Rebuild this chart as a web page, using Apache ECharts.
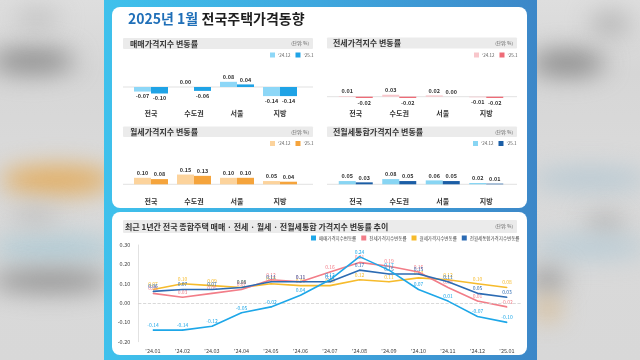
<!DOCTYPE html>
<html><head><meta charset="utf-8">
<script src="https://cdn.jsdelivr.net/npm/echarts@6/dist/echarts.min.js"></script>
<style>
html,body{margin:0;padding:0;background:#d9d9d9;overflow:hidden}
#bg{position:absolute;left:0;top:0;width:640px;height:360px;overflow:hidden;background:linear-gradient(#dedede,#d6d6d6 20%,#dadada 45%,#d8d8d8 100%)}
.b{position:absolute;border-radius:50%;filter:blur(12px)}
#c{position:absolute;left:0;top:0;width:640px;height:360px}
</style>
</head><body>
<div id="bg">
<div class="b" style="left:-10px;top:48px;width:85px;height:26px;background:#8e8e8e"></div>
<div class="b" style="left:15px;top:10px;width:45px;height:18px;background:#bdbdbd"></div>
<div class="b" style="left:0px;top:166px;width:115px;height:28px;background:#e2ac5e"></div>
<div class="b" style="left:-10px;top:236px;width:130px;height:24px;background:#aecbd6"></div>
<div class="b" style="left:-10px;top:270px;width:120px;height:22px;background:#8f8f8f"></div>
<div class="b" style="left:10px;top:208px;width:50px;height:16px;background:#bcbcbc"></div>
<div class="b" style="left:530px;top:50px;width:75px;height:26px;background:#8a8a8a"></div>
<div class="b" style="left:590px;top:13px;width:40px;height:22px;background:#b0b0b0"></div>
<div class="b" style="left:530px;top:168px;width:120px;height:22px;background:#b6c8d2"></div>
<div class="b" style="left:585px;top:213px;width:40px;height:22px;background:#b5b5b5"></div>
<div class="b" style="left:530px;top:236px;width:120px;height:22px;background:#b8ccd6"></div>
<div class="b" style="left:530px;top:268px;width:35px;height:24px;background:#9a9a9a"></div>
<div class="b" style="left:535px;top:298px;width:25px;height:22px;background:#d8b888"></div>
</div>
<div id="c"></div>
<script>
// ---------- data ----------
const regions = ['전국', '수도권', '서울', '지방'];
const periods = ["'24.12", "'25.1"];
const saleDec = [-0.07, 0.00, 0.08, -0.14];
const saleJan = [-0.10, -0.06, 0.04, -0.14];
const jeonseDec = [0.01, 0.03, 0.02, -0.01];
const jeonseJan = [-0.02, -0.02, 0.00, -0.02];
const rentDec = [0.10, 0.15, 0.10, 0.05];
const rentJan = [0.08, 0.13, 0.10, 0.04];
const totalDec = [0.05, 0.08, 0.06, 0.02];
const totalJan = [0.03, 0.05, 0.05, 0.01];

const months = ["'24.01", "'24.02", "'24.03", "'24.04", "'24.05", "'24.06", "'24.07", "'24.08", "'24.09", "'24.10", "'24.11", "'24.12", "'25.01"];
const trendSale   = [-0.14, -0.14, -0.12, -0.05, -0.02, 0.04, 0.12, 0.24, 0.17, 0.07, 0.01, -0.07, -0.10];
const trendJeonse = [0.05, 0.03, 0.05, 0.07, 0.12, 0.11, 0.16, 0.21, 0.19, 0.16, 0.08, 0.01, -0.02];
const trendRent   = [0.07, 0.10, 0.09, 0.08, 0.10, 0.09, 0.09, 0.12, 0.11, 0.13, 0.12, 0.10, 0.08];
const trendTotal  = [0.06, 0.07, 0.07, 0.08, 0.11, 0.11, 0.11, 0.17, 0.15, 0.15, 0.11, 0.05, 0.03];
const trendNames = ['매매가격지수변동률', '전세가격지수변동률', '월세가격지수변동률', '전월세통합가격지수변동률'];

const panelTitles = ['매매가격지수 변동률', '전세가격지수 변동률', '월세가격지수 변동률', '전월세통합가격지수 변동률'];
const trendTitle = '최근 1년간 전국 종합주택 매매 · 전세 · 월세 · 전월세통합 가격지수 변동률 추이';
const unitText = '(단위: %)';

// ---------- layout ----------
const FONT = "'Noto Sans CJK KR', 'Noto Sans', sans-serif";
const S = 65; // px per 1%p in bar panels
const panels = [
  {key: '매매', dec: saleDec, jan: saleJan, c1: '#8dd7f7', c2: '#1fa3e6', hx: 123, hy: 38, left: 129.5, width: 172, zero: 87, labelY: 113, lgx: 270, lgy: 52.5},
  {key: '전세', dec: jeonseDec, jan: jeonseJan, c1: '#f8c6cb', c2: '#ee6b77', hx: 327, hy: 37.5, left: 334, width: 174, zero: 96.7, labelY: 113, lgx: 474, lgy: 52.5},
  {key: '월세', dec: rentDec, jan: rentJan, c1: '#fcd39c', c2: '#f5a43c', hx: 123, hy: 126.5, left: 129.5, width: 172, zero: 184.3, labelY: 201, lgx: 270, lgy: 141},
  {key: '통합', dec: totalDec, jan: totalJan, c1: '#88d5f3', c2: '#1b5ea6', hx: 327, hy: 126.5, left: 334, width: 174, zero: 184.3, labelY: 201, lgx: 473, lgy: 141}
];

const grids = [], xAxes = [], yAxes = [], series = [], legends = [];
panels.forEach((p, i) => {
  const yMax = 0.3;
  const top = p.zero - yMax * S;
  const bottomPx = p.labelY - 3.5 - 2;
  const yMin = -(bottomPx - p.zero) / S;
  grids.push({left: p.left, width: p.width, top: top, height: bottomPx - top});
  xAxes.push({type: 'category', gridIndex: i, data: regions, axisLine: {show: false, onZero: false}, axisTick: {show: false},
    axisLabel: {margin: 2, fontSize: 7, fontWeight: 'bold', color: '#333', fontFamily: FONT}});
  yAxes.push({type: 'value', gridIndex: i, min: yMin, max: yMax, show: false, splitLine: {show: false}});
  [[p.dec, p.c1, periods[0]], [p.jan, p.c2, periods[1]]].forEach(([arr, col, per]) => {
    series.push({
      type: 'bar', name: p.key + '|' + per, xAxisIndex: i, yAxisIndex: i, barWidth: 17, barGap: '0%',
      itemStyle: {color: col}, silent: true, z: 3,
      label: {show: true, fontSize: 5.5, fontWeight: 'bold', color: '#333', distance: 2, fontFamily: FONT,
        formatter: q => Number(q.value).toFixed(2)},
      data: arr.map(v => ({value: v, label: {position: v < 0 ? 'bottom' : 'top'}}))
    });
  });
  legends.push({left: p.lgx, top: p.lgy, orient: 'horizontal', itemWidth: 5, itemHeight: 5, itemGap: 5, padding: 0,
    icon: 'rect', selectedMode: false, data: [p.key + '|' + periods[0], p.key + '|' + periods[1]],
    formatter: n => n.split('|')[1], textStyle: {fontSize: 4.5, color: '#555', fontFamily: FONT, padding: [0, 0, 0, -2]}});
});

// trend grid
const TI = 4;
grids.push({left: 138.25, right: 118.25, top: 245, height: 96.7});
xAxes.push({type: 'category', gridIndex: TI, data: months, boundaryGap: true, axisLine: {show: false, onZero: false}, axisTick: {show: false},
  axisLabel: {margin: 6, fontSize: 5.5, color: '#444', fontFamily: FONT}});
yAxes.push({type: 'value', gridIndex: TI, min: -0.2, max: 0.3, interval: 0.1,
  axisLine: {show: true, lineStyle: {color: '#e2e2e2', width: 1}}, axisTick: {show: false}, splitLine: {show: false},
  axisLabel: {margin: 8, fontSize: 5.5, color: '#444', fontFamily: FONT, formatter: v => v.toFixed(2)}});
const trendColors = ['#1ea7e8', '#f27d88', '#f6bb2c', '#2c6bb3'];
const trendData = [trendSale, trendJeonse, trendRent, trendTotal];
[2, 1, 3, 0].forEach((k, order) => {
  const s = {
    type: 'line', name: trendNames[k], xAxisIndex: TI, yAxisIndex: TI, data: trendData[k],
    symbol: 'circle', symbolSize: 1, showSymbol: true, z: 3 + order, silent: true,
    lineStyle: {color: trendColors[k], width: 1.6}, itemStyle: {color: trendColors[k]},
    label: {show: true, position: 'top', distance: 2, fontSize: 5, color: trendColors[k], fontFamily: FONT,
      formatter: q => Number(q.value).toFixed(2)},
    labelLayout: {hideOverlap: false}
  };
  if (order === 0) {
    s.markLine = {silent: true, symbol: 'none', label: {show: false}, lineStyle: {color: '#cfcfcf', type: 'dashed', width: 0.8},
      data: [{yAxis: 0}]};
  }
  series.push(s);
});
legends.push({left: 311, top: 235.5, itemWidth: 5, itemHeight: 5, itemGap: 5, padding: 0, icon: 'rect', selectedMode: false,
  data: trendNames, textStyle: {fontSize: 4.5, color: '#444', fontFamily: FONT, padding: [0, 0, 0, -2]}});

// ---------- decoration ----------
function headerBar(x, y, w, h) {
  return {type: 'rect', shape: {x: x, y: y, width: w, height: h, r: 1}, style: {fill: '#ebebeb'}, z: -5};
}
function txt(x, y, text, size, color, weight, align) {
  return {type: 'text', x: x, y: y, z: 5, style: {text: text, fontSize: size, fill: color, fontWeight: weight || 'normal',
    fontFamily: FONT, textAlign: align || 'left', textVerticalAlign: 'middle'}};
}
const G = [
  {type: 'rect', shape: {x: 104, y: 0, width: 433, height: 360}, z: -20,
    style: {fill: {type: 'linear', x: 0, y: 0, x2: 1, y2: 0, colorStops: [{offset: 0, color: '#3fc1ec'}, {offset: 0.5, color: '#3ea7de'}, {offset: 1, color: '#3c87c8'}]}}},
  {type: 'rect', shape: {x: 112, y: 7, width: 415, height: 201, r: 8}, style: {fill: '#ffffff'}, z: -10},
  {type: 'rect', shape: {x: 112, y: 212, width: 415, height: 143, r: 8}, style: {fill: '#ffffff'}, z: -10},
  headerBar(123, 38, 190, 11), headerBar(327, 37.5, 190, 11), headerBar(123, 126.5, 190, 10.5), headerBar(327, 126.5, 190, 10.5),
  headerBar(123, 220, 394, 13),
  {type: 'text', x: 128, y: 19, z: 5, style: {rich: {a: {fontSize: 14, fontWeight: 'bold', fill: '#1f6fb8', fontFamily: FONT},
    b: {fontSize: 14, fontWeight: 'bold', fill: '#1e1e1e', fontFamily: FONT}}, text: '{a|2025년 1월} {b|전국주택가격동향}', textVerticalAlign: 'middle'}},
  txt(130, 43.5, panelTitles[0], 8, '#333', 'bold'),
  txt(333, 43, panelTitles[1], 8, '#333', 'bold'),
  txt(130, 131.8, panelTitles[2], 8, '#333', 'bold'),
  txt(333, 131.8, panelTitles[3], 8, '#333', 'bold'),
  txt(125, 226.5, trendTitle, 8, '#333', 'bold'),
  txt(309, 43.5, unitText, 4.5, '#555', 'normal', 'right'),
  txt(513, 43, unitText, 4.5, '#555', 'normal', 'right'),
  txt(309, 131.8, unitText, 4.5, '#555', 'normal', 'right'),
  txt(513, 131.8, unitText, 4.5, '#555', 'normal', 'right'),
  txt(513, 226.5, unitText, 4.5, '#555', 'normal', 'right')
];

const option = {
  animation: false,
  backgroundColor: 'transparent',
  textStyle: {fontFamily: FONT},
  grid: grids, xAxis: xAxes, yAxis: yAxes, legend: legends, series: series,
  graphic: {elements: G}
};

const chart = echarts.init(document.getElementById('c'), null, {renderer: 'canvas'});
chart.setOption(option);
// zero baselines of the bar panels, positioned through the library's own value scales
panels.forEach((p, i) => {
  const y = chart.convertToPixel({yAxisIndex: i}, 0);
  G.push({type: 'line', z: -4, shape: {x1: p.hx, y1: y, x2: p.hx + 190, y2: y}, style: {stroke: '#d9d9d9', lineWidth: 0.8}});
});
option.graphic = {elements: G};
chart.setOption(option, true);
</script>
</body></html>
